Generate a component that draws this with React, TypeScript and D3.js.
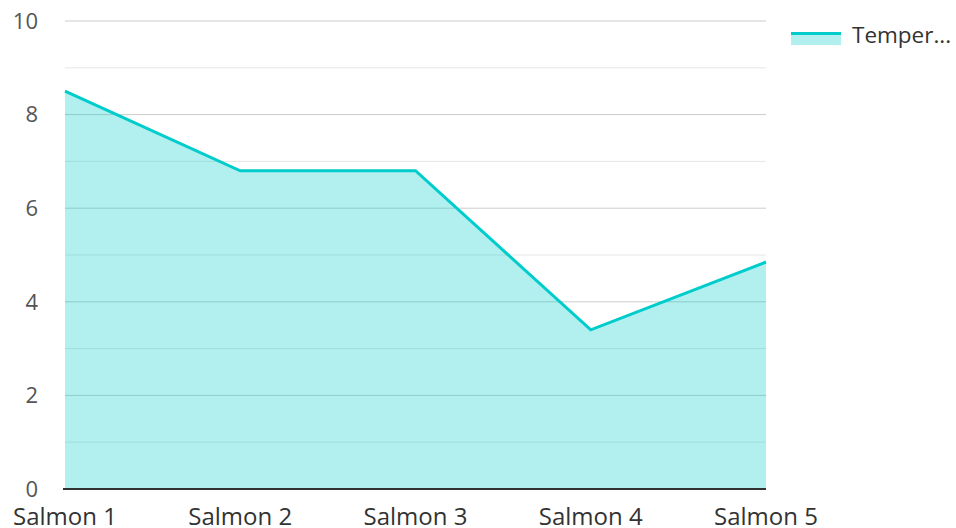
import React from 'react'
import * as d3 from 'd3'

const categories = ['Salmon 1', 'Salmon 2', 'Salmon 3', 'Salmon 4', 'Salmon 5']
const temperature = [8.5, 6.8, 6.8, 3.4, 4.85]
const yTicks = [0, 2, 4, 6, 8, 10]
const minorTicks = [1, 3, 5, 7, 9]
const legendLabel = 'Temper...'

const W = 956
const H = 528
const TEAL = '#00cccc'
const FONT = '"Open Sans", sans-serif'

const App = () => {
  const x = d3.scalePoint<string>().domain(categories).range([65, 766])
  const y = d3.scaleLinear().domain([0, 10]).range([489, 21])

  const pts = categories.map((c, i) => ({ c, v: temperature[i] }))
  const line = d3.line<{ c: string; v: number }>()
    .x((d) => x(d.c) as number)
    .y((d) => y(d.v))
  const area = d3.area<{ c: string; v: number }>()
    .x((d) => x(d.c) as number)
    .y0(y(0))
    .y1((d) => y(d.v))

  return (
    <svg width={W} height={H} style={{ position: 'absolute', left: 0, top: 0 }}>
      {minorTicks.map((t) => (
        <line key={'m' + t} x1={65} x2={766} y1={y(t)} y2={y(t)} stroke="#e6e6e6" strokeWidth={1} />
      ))}
      {yTicks.map((t) => (
        <line key={'g' + t} x1={65} x2={766} y1={y(t)} y2={y(t)} stroke="#cccccc" strokeWidth={1} />
      ))}
      <path d={area(pts) || ''} fill={TEAL} fillOpacity={0.3} />
      <path d={line(pts) || ''} fill="none" stroke={TEAL} strokeWidth={3} strokeLinejoin="miter" />
      <line x1={63} x2={766} y1={y(0)} y2={y(0)} stroke="#333" strokeWidth={2} />
      {yTicks.map((t) => (
        <text key={'t' + t} x={38} y={y(t)} dy="0.35em" textAnchor="end"
          fontFamily={FONT} fontSize={22} fill="#555">{t}</text>
      ))}
      {categories.map((c) => (
        <text key={c} x={x(c) as number} y={525} textAnchor="middle"
          fontFamily={FONT} fontSize={24} fill="#333">{c}</text>
      ))}
      <g transform="translate(791,32)">
        <rect x={0} y={0} width={50} height={13} fill={TEAL} fillOpacity={0.3} />
        <line x1={0} x2={50} y1={1.5} y2={1.5} stroke={TEAL} strokeWidth={3} />
        <text x={61} y={3} dy="0.35em" fontFamily={FONT} fontSize={22.5} fill="#333">{legendLabel}</text>
      </g>
    </svg>
  )
}

export default App
